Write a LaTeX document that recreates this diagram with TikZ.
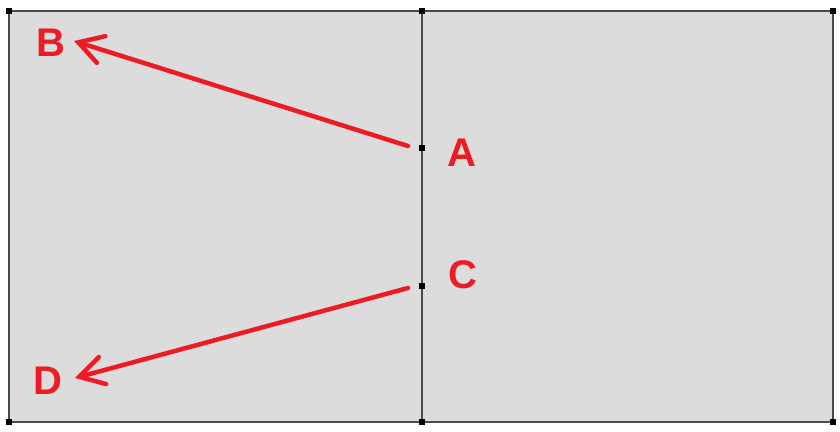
\documentclass[tikz,border=0pt]{standalone}
\usepackage{fontspec}
\setmainfont{Liberation Sans}
\usetikzlibrary{arrows.meta}
\definecolor{panel}{HTML}{DCDCDC}
\definecolor{frame}{HTML}{4A4A4A}
\definecolor{redmark}{HTML}{ED1C24}
\tikzset{
  marker/.style={fill=black, inner sep=0pt, minimum size=6pt, draw=none},
  lbl/.style={text=redmark, font=\bfseries\fontsize{40}{40}\selectfont, inner sep=0pt},
  redarrow/.style={draw=redmark, line width=4.5pt, line cap=round, -{Straight Barb[length=24pt,width=28pt,line cap=round]}}
}
\begin{document}
\begin{tikzpicture}[x=1pt,y=-1pt]
\useasboundingbox (0,0) rectangle (840,431);
\fill[white] (0,0) rectangle (840,431);
\draw[frame, fill=panel, line width=1.5pt] (9,11) rectangle (833,422);
\draw[frame, line width=1.3pt] (422,11) -- (422,422);
\node[marker] (tl) at (9,11) {};
\node[marker] (tm) at (422,11) {};
\node[marker] (tr) at (833,11) {};
\node[marker] (bl) at (9,422) {};
\node[marker] (bm) at (422,422) {};
\node[marker] (br) at (833,422) {};
\node[marker] (mA) at (422,148) {};
\node[marker] (mC) at (422,286) {};
\coordinate (sA) at (408,146);
\coordinate (sC) at (408,288);
\coordinate (tB) at (74,41);
\coordinate (tD) at (75,378);
\node[lbl] (A) at (462,153) {A};
\node[lbl] (B) at (51,43) {B};
\node[lbl] (C) at (463,275) {C};
\node[lbl] (D) at (48,381) {D};
\draw[redarrow] (sA) -- (tB);
\draw[redarrow] (sC) -- (tD);
\end{tikzpicture}
\end{document}
